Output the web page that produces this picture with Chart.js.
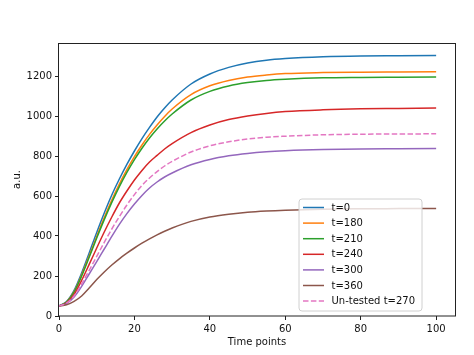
<!DOCTYPE html>
<html>
<head>
<meta charset="utf-8">
<script src="https://cdn.jsdelivr.net/npm/chart.js@4.4.1/dist/chart.umd.min.js"></script>
<style>
  html, body { margin: 0; padding: 0; background: #ffffff; }
  #wrap { width: 474px; height: 355px; position: relative; }
</style>
</head>
<body>
<div id="wrap"><canvas id="c" width="474" height="355"></canvas></div>
<script>
// ---- data ----
const timePoints = [0,2,4,6,8,10,12,14,16,18,20,22,24,26,28,30,35,40,45,50,55,60,70,80,90,100];
const seriesT0   = [50,72,128,215,315,418,515,605,685,758,825,887,943,995,1040,1080,1160,1210,1243,1265,1279,1287,1296,1300,1301,1302];
const seriesT180 = [50,70,122,205,300,398,492,580,660,732,797,855,908,955,998,1035,1107,1151,1178,1195,1205,1212,1217,1219,1220,1221];
const seriesT210 = [50,69,119,200,294,390,482,568,647,718,782,839,890,935,975,1010,1080,1123,1150,1167,1178,1184,1191,1193,1194,1195];
const seriesT240 = [50,66,108,178,258,340,420,495,565,625,680,728,770,803,835,862,917,955,982,1000,1013,1022,1031,1036,1038,1040];
const seriesT300 = [50,62,95,148,210,272,335,398,458,512,560,603,640,670,695,715,756,783,801,813,821,826,832,835,836,837];
const seriesT360 = [50,56,73,100,140,182,220,255,286,314,340,364,386,406,424,440,473,495,509,519,525,529,534,536,537,538];
const seriesUntested270 = [50,64,100,160,228,298,368,435,497,555,607,653,690,722,750,773,820,851,871,885,894,899,906,909,910,911];
const seriesLabels = ['t=0','t=180','t=210','t=240','t=300','t=360','Un-tested t=270'];
const xTicks = [0,20,40,60,80,100];
const yTicks = [0,200,400,600,800,1000,1200];
const xLabel = 'Time points';
const yLabel = 'a.u.';

const seriesValues = [seriesT0, seriesT180, seriesT210, seriesT240, seriesT300, seriesT360, seriesUntested270];
const colors = ['#1f77b4','#ff7f0e','#2ca02c','#d62728','#9467bd','#8c564b','#e377c2'];
const dashes = [[],[],[],[],[],[],[5.5,2.4]];

const FONT = 'DejaVu Sans';

const datasets = seriesValues.map((vals, i) => ({
  label: seriesLabels[i],
  data: timePoints.map((t, k) => ({x: t, y: vals[k]})),
  borderColor: colors[i],
  backgroundColor: colors[i],
  borderWidth: 1.5,
  borderDash: dashes[i],
  pointRadius: 0,
  fill: false,
  cubicInterpolationMode: 'monotone',
  order: seriesValues.length - i
}));

const framePlugin = {
  id: 'frameLegend',
  afterDatasetsDraw(chart) {
    const ctx = chart.ctx;
    const bx = 299, by = 199, bw = 123, bh = 112, r = 3;
    ctx.save();
    ctx.beginPath();
    ctx.moveTo(bx + r, by);
    ctx.lineTo(bx + bw - r, by);
    ctx.quadraticCurveTo(bx + bw, by, bx + bw, by + r);
    ctx.lineTo(bx + bw, by + bh - r);
    ctx.quadraticCurveTo(bx + bw, by + bh, bx + bw - r, by + bh);
    ctx.lineTo(bx + r, by + bh);
    ctx.quadraticCurveTo(bx, by + bh, bx, by + bh - r);
    ctx.lineTo(bx, by + r);
    ctx.quadraticCurveTo(bx, by, bx + r, by);
    ctx.closePath();
    ctx.fillStyle = 'rgba(255,255,255,0.8)';
    ctx.fill();
    ctx.strokeStyle = '#d0d0d0';
    ctx.lineWidth = 1;
    ctx.stroke();
    ctx.font = '10px "' + FONT + '"';
    ctx.textBaseline = 'middle';
    ctx.textAlign = 'left';
    chart.data.datasets.forEach((ds, i) => {
      const y = 207.5 + i * 15.6;
      ctx.beginPath();
      ctx.setLineDash(ds.borderDash || []);
      ctx.strokeStyle = ds.borderColor;
      ctx.lineWidth = 1.5;
      ctx.moveTo(303, y);
      ctx.lineTo(324, y);
      ctx.stroke();
      ctx.setLineDash([]);
      ctx.fillStyle = '#111';
      ctx.fillText(ds.label, 331.5, y + 0.5);
    });
    ctx.restore();
  },
  afterDraw(chart) {
    const {left, right, top, bottom} = chart.chartArea;
    const ctx = chart.ctx;
    ctx.save();
    ctx.strokeStyle = '#222';
    ctx.lineWidth = 1;
    ctx.strokeRect(Math.round(left) - 0.5, Math.round(top) + 0.5, Math.round(right - left) + 1, Math.round(bottom - top) - 0.5);
    ctx.restore();
  }
};

new Chart(document.getElementById('c'), {
  type: 'line',
  data: { datasets },
  options: {
    responsive: false,
    animation: false,
    events: [],
    layout: { padding: { left: 0, right: 19, top: 43, bottom: 0 } },
    plugins: { legend: { display: false }, tooltip: { enabled: false }, title: { display: false } },
    scales: {
      x: {
        type: 'linear',
        min: 0,
        max: 105,
        afterBuildTicks: (s) => { s.ticks = xTicks.map(v => ({value: v})); },
        afterFit: (s) => { s.height = 39; },
        grid: { drawOnChartArea: false, drawTicks: true, tickLength: 4, color: '#222', tickWidth: 1 },
        border: { display: false },
        ticks: { color: '#111', font: { family: FONT, size: 10 }, padding: 3, maxRotation: 0, callback: (v) => String(v) },
        title: { display: true, text: xLabel, color: '#111', font: { family: FONT, size: 10 }, padding: { top: 0, bottom: 7 } }
      },
      y: {
        type: 'linear',
        min: 0,
        max: 1365,
        afterBuildTicks: (s) => { s.ticks = yTicks.map(v => ({value: v})); },
        afterFit: (s) => { s.width = 59; },
        grid: { drawOnChartArea: false, drawTicks: true, tickLength: 4, color: '#222', tickWidth: 1 },
        border: { display: false },
        ticks: { color: '#111', font: { family: FONT, size: 10 }, padding: 3, callback: (v) => String(v) },
        title: { display: true, text: yLabel, color: '#111', font: { family: FONT, size: 10 }, padding: { top: 11, bottom: 0 } }
      }
    }
  },
  plugins: [framePlugin]
});
</script>
</body>
</html>
